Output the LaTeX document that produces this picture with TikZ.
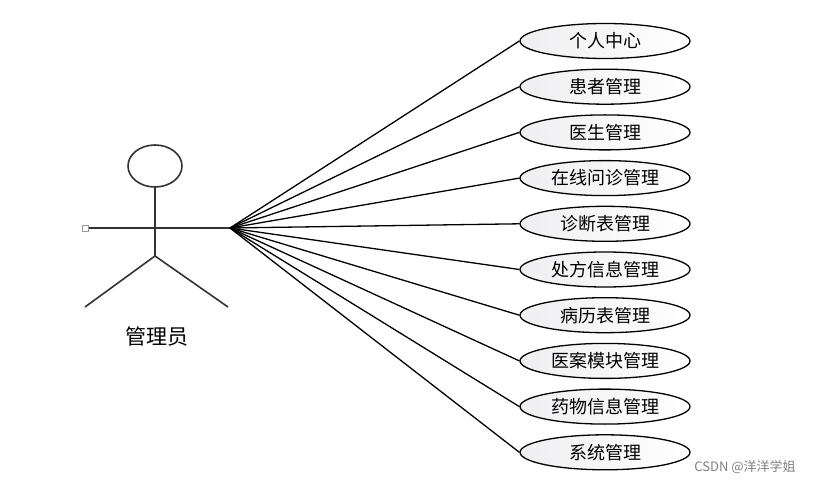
\documentclass[tikz,border=0pt]{standalone}
\usepackage{fontspec}
\newfontfamily\cjk{Noto Sans CJK SC}
\usetikzlibrary{shapes.geometric}
\tikzset{
  usecase/.style={ellipse, draw, line width=1.3pt, minimum width=170pt, minimum height=35pt,
    inner sep=0pt, left color=blue!6!gray!12, right color=white, font=\cjk\fontsize{18}{18}\selectfont},
  assoc/.style={line width=1.3pt},
  limb/.style={draw=black!80, line width=1.6pt}
}
\begin{document}
\begin{tikzpicture}[x=1pt, y=-1pt]
    \useasboundingbox (0,0) rectangle (830,486);
    % actor
    \draw[limb] (155,166) ellipse (27 and 21);
    \draw[limb] (155,187) -- (155,256);
    \draw[limb] (85,228) -- (230,228);
    \draw[limb] (85,307) -- (155,256) -- (228,307);
    \draw[black!40, fill=white] (82,225) rectangle (88,231);
    \coordinate (hand) at (230,228);
    \node[font=\cjk\fontsize{21}{21}\selectfont] (admin) at (157,337) {管理员};
    % use cases
    \foreach \txt [count=\i] in {个人中心, 患者管理, 医生管理, 在线问诊管理, 诊断表管理,
        处方信息管理, 病历表管理, 医案模块管理, 药物信息管理, 系统管理} {
      \node[usecase] (uc\i) at (605, {41 + (\i-1)*45.7}) {\txt};
      \draw[assoc] (hand) -- (uc\i.west);
    }
    \node[text=gray, font=\cjk\fontsize{13}{13}\selectfont] (mark) at (745,467) {CSDN @洋洋学姐};
\end{tikzpicture}
\end{document}
